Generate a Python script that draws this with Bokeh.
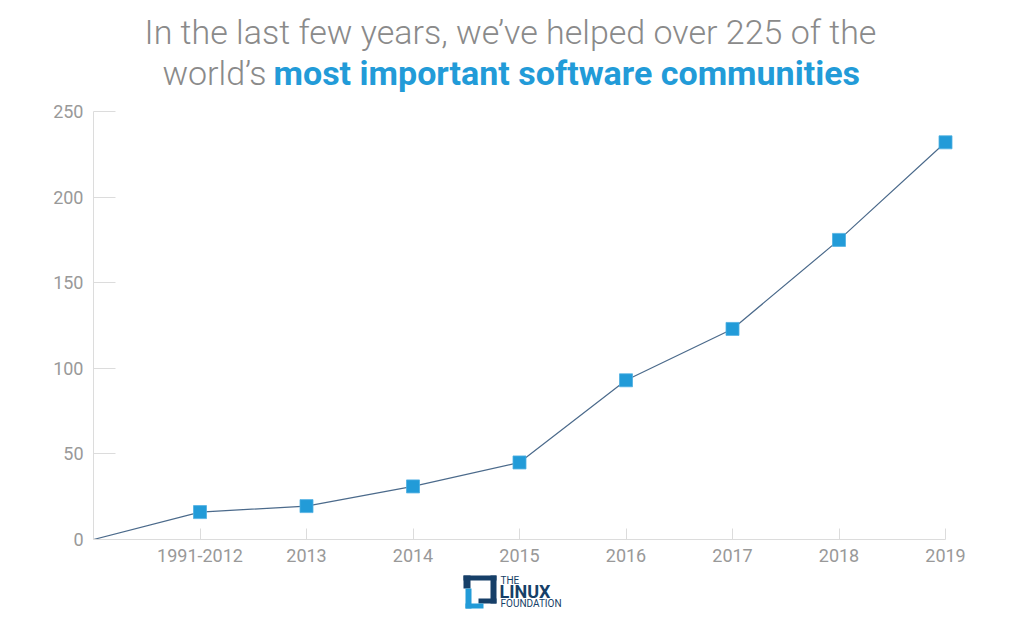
from bokeh.plotting import figure
from bokeh.models import Range1d, FixedTicker
from bokeh.layouts import column
from bokeh.embed import file_html
from bokeh.resources import INLINE
from bokeh.core.properties import value

# ---- data ----
categories = ["1991-2012", "2013", "2014", "2015", "2016", "2017", "2018", "2019"]
communities = [16, 19.5, 31, 45, 93, 123, 175, 232]
start_value = 0
y_ticks = [0, 50, 100, 150, 200, 250]

title_line1 = "In the last few years, we\u2019ve helped over 225 of the"
title_line2a = "world\u2019s"
title_line2b = "most important software communities"

GRAY = "#8a8a8a"
BLUE = "#229bd8"
NAVY = "#163f68"
AXIS = "#dcdcdc"

x_pos = list(range(1, len(categories) + 1))
x_line = [0] + x_pos
y_line = [start_value] + communities

W = 1024
LEFT, RIGHT = 93, 48
frame_w = W - LEFT - RIGHT
frame_h = 539            # frame from top of canvas down to the x axis
px_per_x = 106.5
px_per_y = 428 / 250

p = figure(width=W, height=frame_h + 34,
           x_range=Range1d(0, frame_w / px_per_x),
           y_range=Range1d(0, frame_h / px_per_y),
           min_border_left=LEFT, min_border_right=RIGHT,
           min_border_top=0, min_border_bottom=34,
           output_backend="svg", toolbar_location=None)
p.outline_line_color = None
p.xgrid.visible = False
p.ygrid.visible = False

p.line(x_line, y_line, line_color="#4b6a8b", line_width=1.2)
p.scatter(x_pos, communities, marker="square", size=13,
          fill_color=BLUE, line_color="#4fb0e2", line_width=0.8)

xa = p.xaxis[0]
xa.ticker = FixedTicker(ticks=x_pos)
xa.major_label_overrides = {i: c for i, c in zip(x_pos, categories)}
xa.bounds = (0, len(categories))
xa.axis_line_color = AXIS
xa.major_tick_line_color = AXIS
xa.major_tick_in = 11
xa.major_tick_out = 0
xa.minor_tick_line_color = None
xa.major_label_text_font = "Roboto"
xa.major_label_text_font_size = "18px"
xa.major_label_text_color = "#999999"
xa.major_label_standoff = 9

ya = p.yaxis[0]
ya.ticker = FixedTicker(ticks=y_ticks)
ya.bounds = (0, 250)
ya.axis_line_color = AXIS
ya.major_tick_line_color = AXIS
ya.major_tick_in = 22
ya.major_tick_out = 0
ya.minor_tick_line_color = None
ya.major_label_text_font = "Roboto"
ya.major_label_text_font_size = "18px"
ya.major_label_text_color = "#999999"
ya.major_label_standoff = 10

# title, placed in the frame above the plotted area (pixel -> data helpers)
def dx(px):
    return (px - LEFT) / px_per_x

def dy(py):
    return (frame_h - py) / px_per_y

p.text(x=[dx(510)], y=[dy(31)], text=[title_line1], text_align="center",
       text_baseline="alphabetic", text_font=value("Roboto Light"),
       text_font_size="34px", text_color=GRAY)
p.text(x=[dx(266)], y=[dy(72)], text=[title_line2a], text_align="right",
       text_baseline="alphabetic", text_font=value("Roboto Light"),
       text_font_size="34px", text_color=GRAY)
p.text(x=[dx(273)], y=[dy(72)], text=[title_line2b], text_align="left",
       text_baseline="alphabetic", text_font=value("Roboto"),
       text_font_style="bold", text_font_size="34px", text_color=BLUE)

# ---- logo strip (data x = page pixel x) ----
lg = figure(width=W, height=46, x_range=Range1d(LEFT, W - RIGHT), y_range=Range1d(0, 46),
            min_border=0, min_border_left=LEFT, min_border_right=RIGHT,
            x_axis_type=None, y_axis_type=None,
            output_backend="svg", toolbar_location=None)
lg.outline_line_color = None
lg.xgrid.visible = False
lg.ygrid.visible = False
lg.quad(left=[463, 490, 478, 463], right=[496, 496, 496, 470],
        bottom=[39, 16, 16, 31], top=[44, 44, 21, 44],
        fill_color=NAVY, line_color=None)
lg.quad(left=[465, 465], right=[471, 483], bottom=[11, 11], top=[31, 16],
        fill_color=BLUE, line_color=None)
lg.text(x=[500], y=[39], text=["THE"], text_font=value("Roboto"),
        text_font_size="10px", text_color=NAVY, text_baseline="alphabetic")
lg.text(x=[499], y=[28], text=["LINUX"], text_font=value("Roboto"),
        text_font_style="bold", text_font_size="18px", text_color=NAVY,
        text_baseline="alphabetic")
lg.text(x=[500], y=[16], text=["FOUNDATION"], text_font=value("Roboto"),
        text_font_size="10px", text_color=NAVY, text_baseline="alphabetic")

layout = column(p, lg)
open("out.html", "w").write(file_html(layout, INLINE))
